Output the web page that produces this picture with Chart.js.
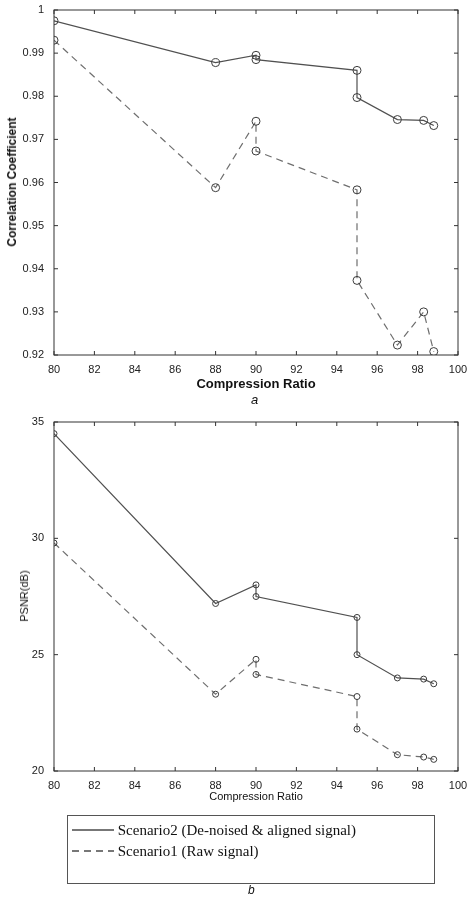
<!DOCTYPE html>
<html>
<head>
<meta charset="utf-8">
<script src="https://cdn.jsdelivr.net/npm/chart.js@4"></script>
<style>
  body { margin: 0; background: #fff; width: 474px; height: 898px; position: relative; overflow: hidden; font-family: Arial, "Liberation Sans", sans-serif; }
  .box { position: absolute; left: 0; width: 474px; }
  .lbl { position: absolute; font-size: 12px; color: #111; white-space: nowrap; }
  .rot { transform: translate(-50%, -50%) rotate(-90deg); }
  #legend { position: absolute; left: 67px; top: 815px; width: 366px; height: 67px; border: 1px solid #555; font-family: "Liberation Serif", "DejaVu Serif", serif; font-size: 15px; color: #111; }
  #legend div { position: absolute; left: 4px; }
</style>
</head>
<body>
<div class="box" style="top:0;height:410px"><canvas id="corr"></canvas></div>
<div class="box" style="top:412px;height:400px"><canvas id="psnr"></canvas></div>

<div class="lbl rot" style="left:12px;top:182px;font-weight:bold">Correlation Coefficient</div>
<div class="lbl" style="left:256px;top:376px;transform:translateX(-50%);font-weight:bold;font-size:13px">Compression Ratio</div>
<div class="lbl" style="left:251px;top:392px;font-style:italic;font-size:13px">a</div>
<div class="lbl rot" style="left:24px;top:596px;font-size:11px">PSNR(dB)</div>
<div class="lbl" style="left:256px;top:790px;transform:translateX(-50%);font-size:11px">Compression Ratio</div>
<div class="lbl" style="left:248px;top:883px;font-style:italic;font-size:12px">b</div>

<div id="legend">
  <div style="top:6px"><svg width="42" height="10"><line x1="0" y1="5" x2="42" y2="5" stroke="#777" stroke-width="2"/></svg> Scenario2 (De-noised &amp; aligned signal)</div>
  <div style="top:27px"><svg width="42" height="10"><line x1="0" y1="5" x2="42" y2="5" stroke="#777" stroke-width="2" stroke-dasharray="7,5"/></svg> Scenario1 (Raw signal)</div>
</div>

<script>
// compression ratios (same for every series)
const ratios = [80, 88, 90, 90, 95, 95, 97, 98.3, 98.8];

const corrScenario2 = [0.9975, 0.9878, 0.9895, 0.9885, 0.9860, 0.9797, 0.9746, 0.9744, 0.9732];
const corrScenario1 = [0.9930, 0.9588, 0.9742, 0.9673, 0.9583, 0.9373, 0.9223, 0.9300, 0.9208];

const psnrScenario2 = [34.5, 27.2, 28.0, 27.5, 26.6, 25.0, 24.0, 23.95, 23.75];
const psnrScenario1 = [29.8, 23.3, 24.8, 24.15, 23.2, 21.8, 20.7, 20.6, 20.5];

const xTicks = [80, 82, 84, 86, 88, 90, 92, 94, 96, 98, 100];
const corrTicks = [0.92, 0.93, 0.94, 0.95, 0.96, 0.97, 0.98, 0.99, 1];
const psnrTicks = [20, 25, 30, 35];

function pts(ys) {
    return ratios.map((x, i) => ({x: x, y: ys[i]}));
}

// box around plot area with inward ticks, matlab style
const frame = {
    id: 'frame',
    afterDraw(chart) {
        const c = chart.ctx, a = chart.chartArea;
        const sx = chart.scales.x, sy = chart.scales.y;
        c.save();
        c.strokeStyle = '#333';
        c.lineWidth = 1;
        c.strokeRect(a.left, a.top, a.right - a.left, a.bottom - a.top);
        c.beginPath();
        xTicks.forEach(v => {
            const px = sx.getPixelForValue(v);
            c.moveTo(px, a.bottom); c.lineTo(px, a.bottom - 4);
            c.moveTo(px, a.top); c.lineTo(px, a.top + 4);
        });
        chart.options.yTickList.forEach(v => {
            const py = sy.getPixelForValue(v);
            c.moveTo(a.left, py); c.lineTo(a.left + 4, py);
            c.moveTo(a.right, py); c.lineTo(a.right - 4, py);
        });
        c.stroke();
        c.restore();
    }
};

function makeChart(id, s2, s1, yMin, yMax, yTicks, fmt, radius, xHeight) {
    const ctx = document.getElementById(id).getContext('2d');
    return new Chart(ctx, {
        type: 'scatter',
        data: {
            datasets: [{
                data: pts(s2),
                showLine: true,
                borderColor: 'rgb(80, 80, 80)',
                borderWidth: 1.2,
                pointRadius: radius,
                pointBorderColor: 'rgb(60, 60, 60)',
                pointBackgroundColor: 'rgba(0,0,0,0)',
                pointBorderWidth: 1
            }, {
                data: pts(s1),
                showLine: true,
                borderColor: 'rgb(110, 110, 110)',
                borderDash: [7, 5],
                borderWidth: 1.2,
                pointRadius: radius,
                pointBorderColor: 'rgb(60, 60, 60)',
                pointBackgroundColor: 'rgba(0,0,0,0)',
                pointBorderWidth: 1
            }]
        },
        options: {
            responsive: true,
            maintainAspectRatio: false,
            animation: false,
            yTickList: yTicks,
            layout: {padding: {left: 0, right: 16, top: 10, bottom: 0}},
            plugins: {legend: {display: false}, tooltip: {enabled: false}},
            scales: {
                x: {
                    type: 'linear', min: 80, max: 100,
                    afterBuildTicks: s => { s.ticks = xTicks.map(v => ({value: v})); },
                    afterFit: s => { s.height = xHeight; },
                    grid: {display: false},
                    border: {display: false},
                    ticks: {color: '#222', font: {family: 'Arial', size: 11}, padding: 0, maxRotation: 0}
                },
                y: {
                    min: yMin, max: yMax,
                    afterBuildTicks: s => { s.ticks = yTicks.map(v => ({value: v})); },
                    afterFit: s => { s.width = 54; },
                    grid: {display: false},
                    border: {display: false},
                    ticks: {color: '#222', font: {family: 'Arial', size: 11}, padding: 2, callback: fmt}
                }
            }
        },
        plugins: [frame]
    });
}

makeChart('corr', corrScenario2, corrScenario1, 0.92, 1, corrTicks,
    v => v === 1 ? '1' : v.toFixed(2), 4, 55);
makeChart('psnr', psnrScenario2, psnrScenario1, 20, 35, psnrTicks,
    v => String(v), 3, 41);
</script>
</body>
</html>
